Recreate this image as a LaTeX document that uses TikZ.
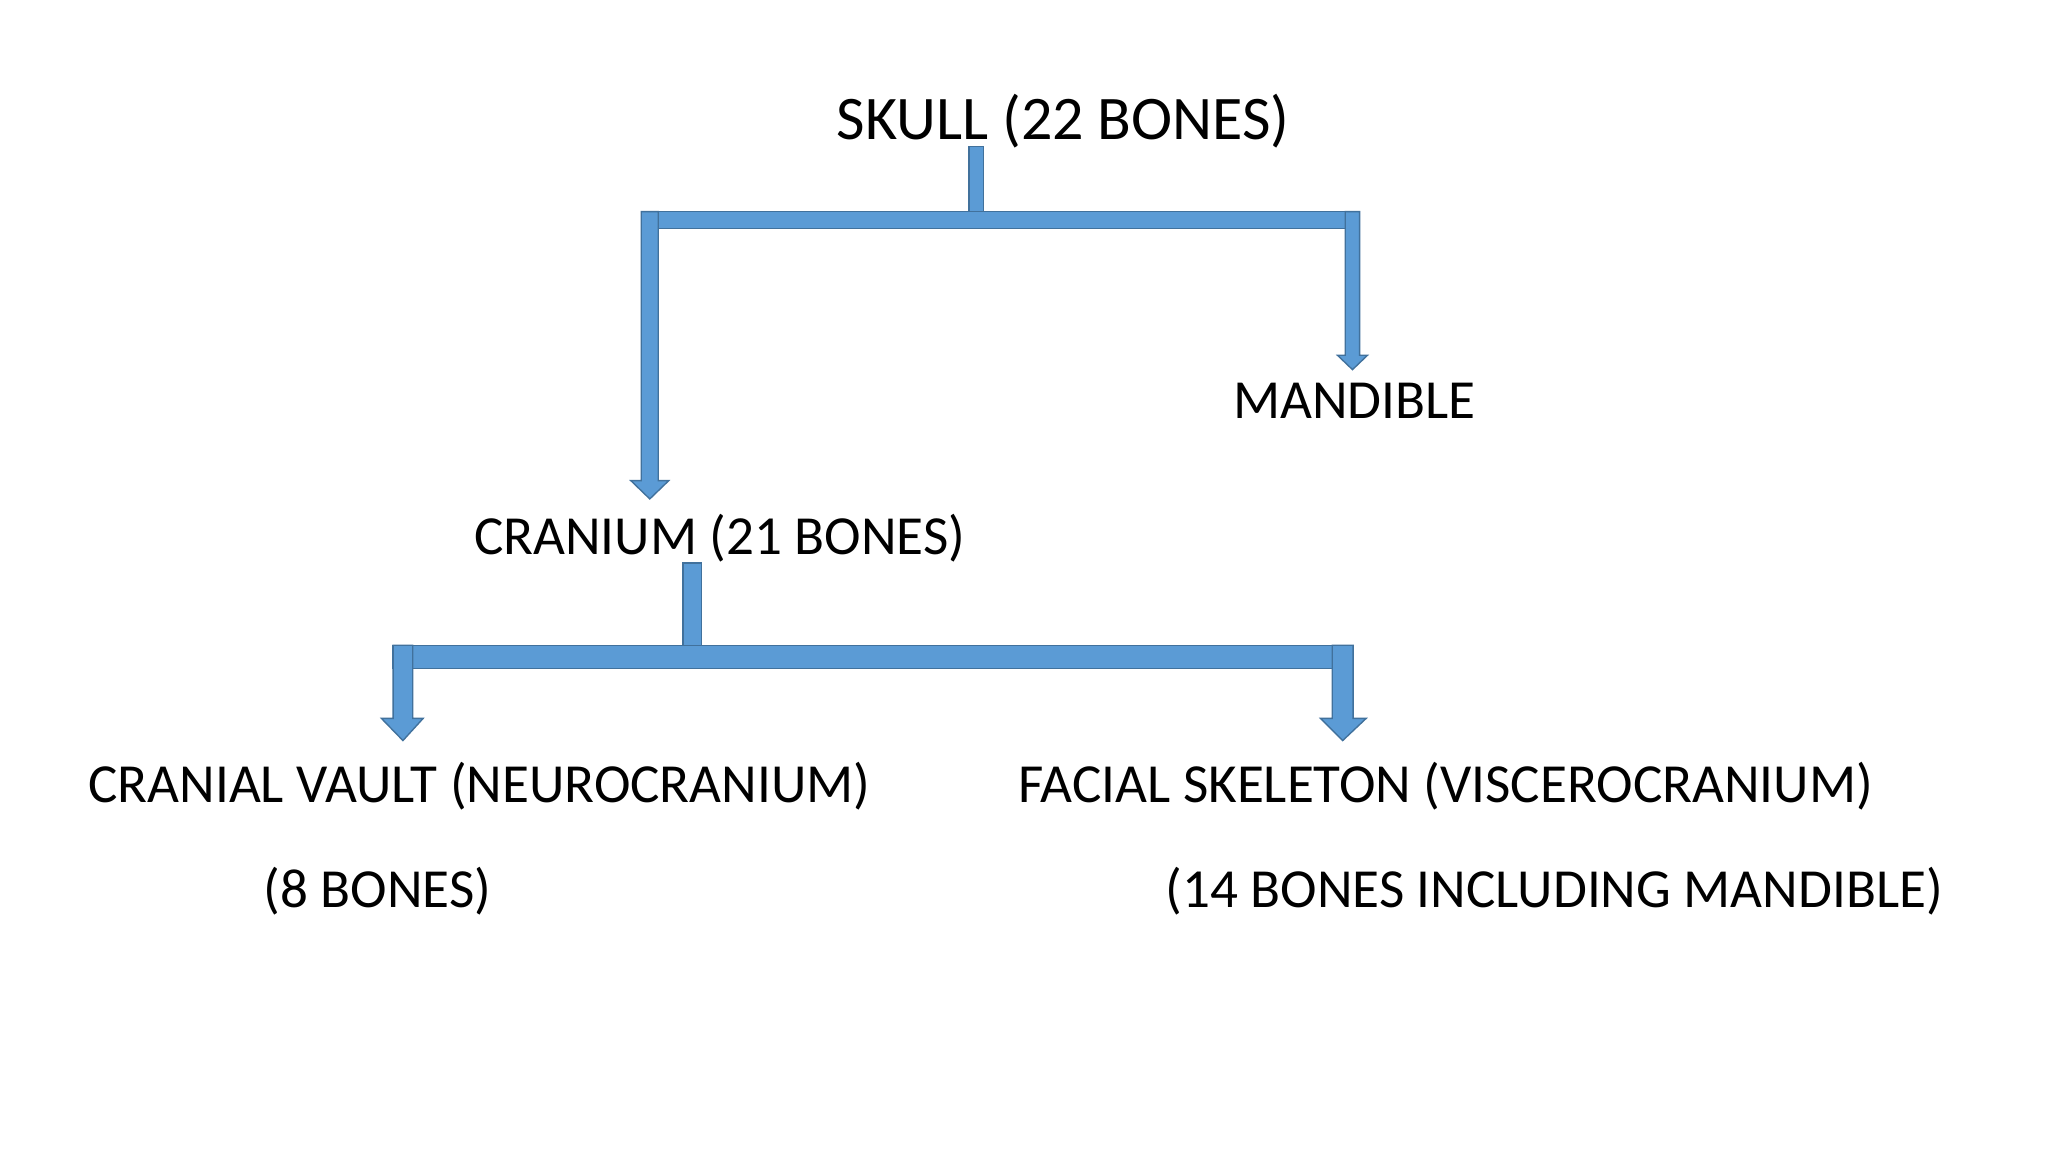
\documentclass[tikz,border=0pt]{standalone}
\usepackage{fontspec}
\setmainfont{Carlito}
\definecolor{barfill}{HTML}{5B9BD5}
\definecolor{barline}{HTML}{41719C}
\tikzset{bar/.style={fill=barfill,draw=barline,line width=0.3pt},
lbl/.style={inner sep=0pt,font=\fontsize{13.5}{16}\selectfont},
lbls/.style={inner sep=0pt,font=\fontsize{12}{14}\selectfont}}
\begin{document}
\begin{tikzpicture}[x=0.01cm,y=-0.01cm]
\useasboundingbox[fill=white] (0,0) rectangle (1568,882);
\node[lbl] (skull) at (814,93) {SKULL (22 BONES)};
\node[lbls] (mand) at (1037,307) {MANDIBLE};
\node[lbls] (cran) at (551,412) {CRANIUM (21 BONES)};
\node[lbls] (vault) at (367,602) {CRANIAL VAULT (NEUROCRANIUM)};
\node[lbls] (eight) at (289,682) {(8 BONES)};
\node[lbls] (face) at (1107,602) {FACIAL SKELETON (VISCEROCRANIUM)};
\node[lbls] (fourteen) at (1190,682) {(14 BONES INCLUDING MANDIBLE)};
% top tree
\draw[bar] (742,112) rectangle (753,162);
\draw[bar] (491,162) rectangle (1041,175);
\draw[bar] (491,162) -- (504,162) -- (504,368) -- (512,368) -- (497.5,382) -- (483,368) -- (491,368) -- cycle;
\draw[bar] (1030,162) -- (1041,162) -- (1041,272) -- (1047,272) -- (1035.5,283) -- (1024,272) -- (1030,272) -- cycle;
% cranium tree
\draw[bar] (523,431) rectangle (537,494);
\draw[bar] (301,494) rectangle (1036,512);
\draw[bar] (301,494) -- (316,494) -- (316,550) -- (324,550) -- (308.5,567) -- (292,550) -- (301,550) -- cycle;
\draw[bar] (1020,494) -- (1036,494) -- (1036,550) -- (1046,550) -- (1028,567) -- (1011,550) -- (1020,550) -- cycle;
\end{tikzpicture}
\end{document}
